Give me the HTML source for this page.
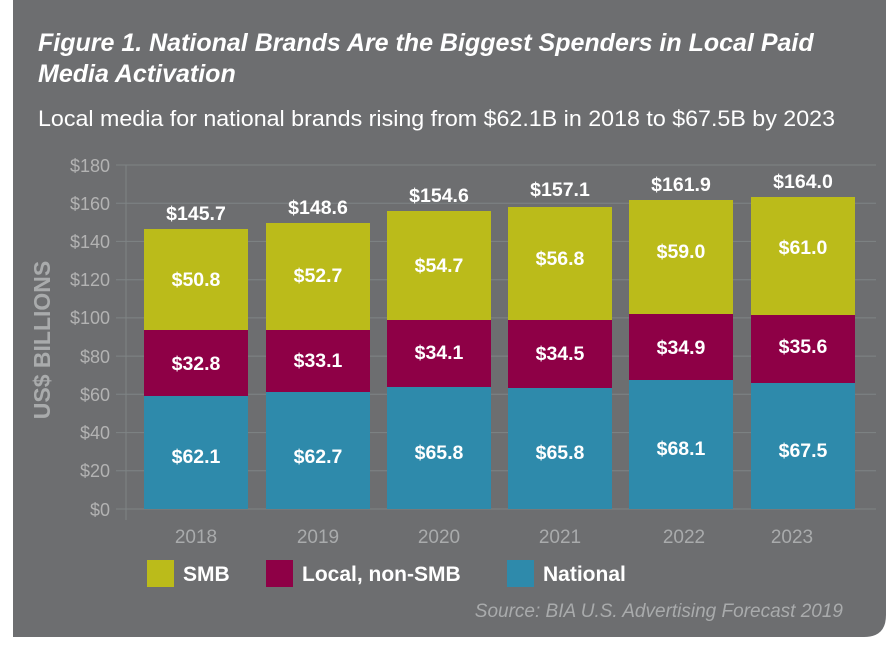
<!DOCTYPE html>
<html><head><style>
body{margin:0;background:#fff;}
svg{display:block;font-family:"Liberation Sans",sans-serif;}
</style></head><body>
<svg width="895" height="645" viewBox="0 0 895 645">
<path d="M13 0 H886 V615 Q886 637 864 637 H13 Z" fill="#6d6e70"/>
<text x="38" y="51" fill="#fff" font-size="25" font-weight="bold" font-style="italic">Figure 1. National Brands Are the Biggest Spenders in Local Paid</text>
<text x="38" y="82" fill="#fff" font-size="25" font-weight="bold" font-style="italic">Media Activation</text>
<text x="38" y="126" fill="#fff" font-size="22.5" textLength="797" lengthAdjust="spacingAndGlyphs">Local media for national brands rising from $62.1B in 2018 to $67.5B by 2023</text>
<g stroke="#7f8485" stroke-width="1">
<line x1="116" x2="876" y1="165" y2="165"/><line x1="116" x2="876" y1="203.2" y2="203.2"/><line x1="116" x2="876" y1="241.4" y2="241.4"/><line x1="116" x2="876" y1="279.7" y2="279.7"/><line x1="116" x2="876" y1="317.9" y2="317.9"/><line x1="116" x2="876" y1="356.1" y2="356.1"/><line x1="116" x2="876" y1="394.3" y2="394.3"/><line x1="116" x2="876" y1="432.6" y2="432.6"/><line x1="116" x2="876" y1="470.8" y2="470.8"/><line x1="116" x2="876" y1="509" y2="509"/>
<line x1="126" x2="126" y1="165" y2="520"/>
</g>
<g fill="#b3b3b3" font-size="18" text-anchor="end">
<text x="110" y="172">$180</text><text x="110" y="210">$160</text><text x="110" y="248">$140</text><text x="110" y="286">$120</text><text x="110" y="324">$100</text><text x="110" y="363">$80</text><text x="110" y="401">$60</text><text x="110" y="439">$40</text><text x="110" y="477">$20</text><text x="110" y="516">$0</text>
</g>
<text transform="translate(50 340) rotate(-90)" fill="#a9abac" font-size="23" font-weight="bold" text-anchor="middle">US$ BILLIONS</text>
<g font-size="19.5" font-weight="bold" fill="#fff" text-anchor="middle">
<rect x="144" y="396" width="104" height="113" fill="#2e8aab"/><rect x="144" y="330" width="104" height="66" fill="#8e0046"/><rect x="144" y="229" width="104" height="101" fill="#bbbb1a"/>
<text x="196" y="463">$62.1</text><text x="196" y="370">$32.8</text><text x="196" y="286">$50.8</text><text x="196" y="220">$145.7</text>
<rect x="266" y="392" width="104" height="117" fill="#2e8aab"/><rect x="266" y="330" width="104" height="62" fill="#8e0046"/><rect x="266" y="223" width="104" height="107" fill="#bbbb1a"/>
<text x="318" y="463">$62.7</text><text x="318" y="367">$33.1</text><text x="318" y="282">$52.7</text><text x="318" y="214">$148.6</text>
<rect x="387" y="387" width="104" height="122" fill="#2e8aab"/><rect x="387" y="320" width="104" height="67" fill="#8e0046"/><rect x="387" y="211" width="104" height="109" fill="#bbbb1a"/>
<text x="439" y="459">$65.8</text><text x="439" y="359">$34.1</text><text x="439" y="272">$54.7</text><text x="439" y="202">$154.6</text>
<rect x="508" y="388" width="104" height="121" fill="#2e8aab"/><rect x="508" y="320" width="104" height="68" fill="#8e0046"/><rect x="508" y="207" width="104" height="113" fill="#bbbb1a"/>
<text x="560" y="459">$65.8</text><text x="560" y="360">$34.5</text><text x="560" y="265">$56.8</text><text x="560" y="196">$157.1</text>
<rect x="629" y="380" width="104" height="129" fill="#2e8aab"/><rect x="629" y="314" width="104" height="66" fill="#8e0046"/><rect x="629" y="200" width="104" height="114" fill="#bbbb1a"/>
<text x="681" y="455">$68.1</text><text x="681" y="354">$34.9</text><text x="681" y="258">$59.0</text><text x="681" y="191">$161.9</text>
<rect x="751" y="383" width="104" height="126" fill="#2e8aab"/><rect x="751" y="315" width="104" height="68" fill="#8e0046"/><rect x="751" y="197" width="104" height="118" fill="#bbbb1a"/>
<text x="803" y="457">$67.5</text><text x="803" y="353">$35.6</text><text x="803" y="254">$61.0</text><text x="803" y="188">$164.0</text>
</g>
<g fill="#a9abac" font-size="19" text-anchor="middle">
<text x="196" y="543">2018</text><text x="318" y="543">2019</text><text x="439" y="543">2020</text><text x="560" y="543">2021</text><text x="684" y="543">2022</text><text x="792" y="543">2023</text>
</g>
<rect x="147" y="560" width="27" height="27" fill="#bbbb1a"/>
<text x="183" y="581" fill="#fff" font-size="21" font-weight="bold">SMB</text>
<rect x="266" y="560" width="27" height="27" fill="#8e0046"/>
<text x="302" y="581" fill="#fff" font-size="21" font-weight="bold">Local, non-SMB</text>
<rect x="507" y="560" width="27" height="27" fill="#2e8aab"/>
<text x="543" y="581" fill="#fff" font-size="21" font-weight="bold">National</text>
<text x="843" y="617" fill="#a9abac" font-size="19" font-style="italic" text-anchor="end">Source: BIA U.S. Advertising Forecast 2019</text>
</svg>
</body></html>
